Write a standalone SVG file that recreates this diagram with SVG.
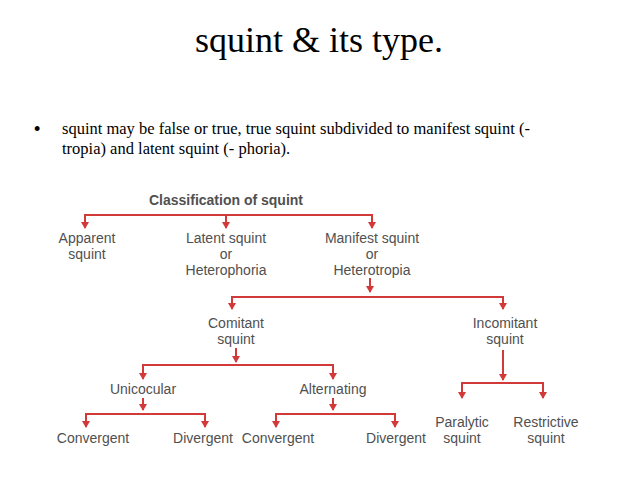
<svg xmlns="http://www.w3.org/2000/svg" width="638" height="478" viewBox="0 0 638 478">
<style>
.t{font-family:"Liberation Sans",Arial,sans-serif;font-size:14px;fill:#505050;text-anchor:middle}
.c{stroke:#d23a3a;stroke-width:2;fill:none}
</style>
<defs><marker id="a" markerWidth="10" markerHeight="10" refX="4" refY="6" orient="0" markerUnits="userSpaceOnUse"><path d="M0,0 L8,0 L4,7 Z" fill="#d23a3a"/></marker></defs>
<rect width="638" height="478" fill="#fff"/>
<text x="319" y="52" font-family="Liberation Serif,serif" font-size="36" text-anchor="middle" fill="#000">squint &amp; its type.</text>
<text x="34" y="135" font-family="Liberation Sans,sans-serif" font-size="18" fill="#000">•</text>
<text x="62" y="134" font-family="Liberation Serif,serif" font-size="16.5" fill="#000">squint may be false or true, true squint subdivided to manifest squint (-</text>
<text x="62" y="154" font-family="Liberation Serif,serif" font-size="16.5" fill="#000">tropia) and latent squint (- phoria).</text>
<g id="connectors" class="c">
<path d="M85,228 V215 H372 V228" marker-end="url(#a)"/>
<path d="M85,215 V228" marker-end="url(#a)"/><path d="M226,215 V228" marker-end="url(#a)"/>
<path d="M370,278 V292" marker-end="url(#a)"/>
<path d="M232,309 V297 H503 V309" marker-end="url(#a)"/><path d="M232,297 V309" marker-end="url(#a)"/>
<path d="M236,348 V362" marker-end="url(#a)"/>
<path d="M143,379 V365 H333 V379" marker-end="url(#a)"/><path d="M143,365 V379" marker-end="url(#a)"/>
<path d="M143,398 V410" marker-end="url(#a)"/><path d="M333,398 V410" marker-end="url(#a)"/>
<path d="M86,427 V414 H205 V427" marker-end="url(#a)"/><path d="M86,414 V427" marker-end="url(#a)"/>
<path d="M276,427 V414 H395 V427" marker-end="url(#a)"/><path d="M276,414 V427" marker-end="url(#a)"/>
<path d="M503,350 V380" marker-end="url(#a)"/>
<path d="M462,398 V383 H543 V398" marker-end="url(#a)"/><path d="M462,383 V398" marker-end="url(#a)"/>
</g>
<g id="title"><text class="t" x="226" y="205" font-weight="bold" font-size="15.5">Classification of squint</text></g>
<g id="apparent"><text class="t" x="87" y="243">Apparent</text><text class="t" x="87" y="259">squint</text></g>
<g id="latent"><text class="t" x="226" y="243">Latent squint</text><text class="t" x="226" y="259">or</text><text class="t" x="226" y="275">Heterophoria</text></g>
<g id="manifest"><text class="t" x="372" y="243">Manifest squint</text><text class="t" x="372" y="259">or</text><text class="t" x="372" y="275">Heterotropia</text></g>
<g id="comitant"><text class="t" x="236" y="328">Comitant</text><text class="t" x="236" y="344">squint</text></g>
<g id="incomitant"><text class="t" x="505" y="328">Incomitant</text><text class="t" x="505" y="344">squint</text></g>
<g id="unicocular"><text class="t" x="143" y="394">Unicocular</text></g>
<g id="alternating"><text class="t" x="333" y="394">Alternating</text></g>
<g id="conv1"><text class="t" x="93" y="443">Convergent</text></g>
<g id="div1"><text class="t" x="203" y="443">Divergent</text></g>
<g id="conv2"><text class="t" x="278" y="443">Convergent</text></g>
<g id="div2"><text class="t" x="396" y="443">Divergent</text></g>
<g id="paralytic"><text class="t" x="462" y="427">Paralytic</text><text class="t" x="462" y="443">squint</text></g>
<g id="restrictive"><text class="t" x="546" y="427">Restrictive</text><text class="t" x="546" y="443">squint</text></g>
</svg>
